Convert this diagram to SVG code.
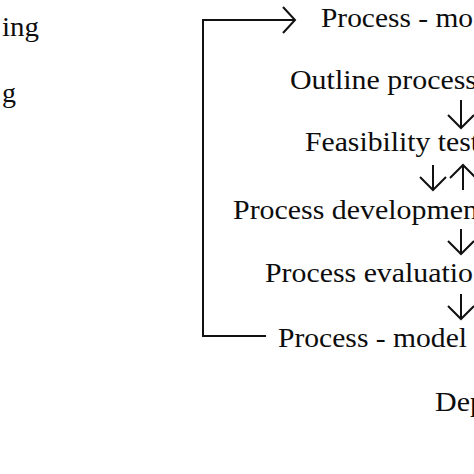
<svg xmlns="http://www.w3.org/2000/svg" width="474" height="474" viewBox="0 0 474 474">
<style>
text{font-family:"Liberation Serif","Times New Roman",serif;font-size:28px;fill:#0d0d0d;}
.c{fill:none;stroke:#111;stroke-width:2;stroke-linecap:butt;stroke-linejoin:miter;}
.a{fill:none;stroke:#111;stroke-width:2;}
</style>
<rect width="474" height="474" fill="#fff"/>
<g id="left-1"><text x="2" y="36" textLength="37" lengthAdjust="spacingAndGlyphs">ing</text></g>
<g id="left-2"><text x="2" y="102">g</text></g>
<g id="node-model-top"><text x="321" y="27" textLength="152" lengthAdjust="spacingAndGlyphs">Process - mo</text></g>
<g id="node-outline"><text x="290" y="89" textLength="187" lengthAdjust="spacingAndGlyphs">Outline process</text></g>
<g id="node-feasibility"><text x="305" y="151" textLength="174" lengthAdjust="spacingAndGlyphs">Feasibility test</text></g>
<g id="node-development"><text x="233" y="219" textLength="245" lengthAdjust="spacingAndGlyphs">Process developmen</text></g>
<g id="node-evaluation"><text x="265" y="282" textLength="208" lengthAdjust="spacingAndGlyphs">Process evaluatio</text></g>
<g id="node-model-bottom"><text x="278" y="347" textLength="189" lengthAdjust="spacingAndGlyphs">Process - model</text></g>
<g id="node-dep"><text x="435" y="411" textLength="50" lengthAdjust="spacingAndGlyphs">Dep</text></g>
<g id="connectors">
<path class="c" d="M266 336 H203 V20 H294"/>
<path class="c" d="M283 7 L295 20 L283 33"/>
<path class="a" d="M461 100 V128 M448 115 L461 128 L474 115"/>
<path class="a" d="M433 165 V190 M420 177 L433 190 L446 177"/>
<path class="a" d="M463 190 V165 M450 178 L463 165 L476 178"/>
<path class="a" d="M461 229 V254 M448 241 L461 254 L474 241"/>
<path class="a" d="M461 294 V319 M448 306 L461 319 L474 306"/>
</g>
</svg>
